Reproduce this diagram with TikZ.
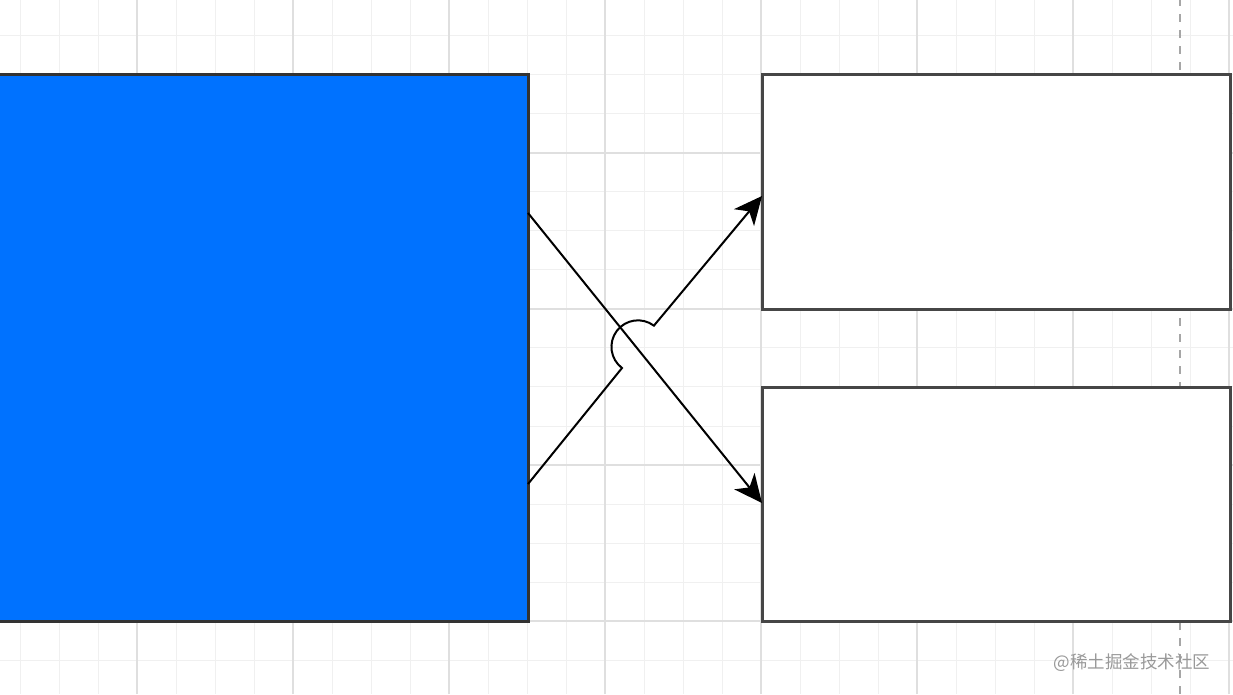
\documentclass[tikz,border=0pt]{standalone}
\usepackage{fontspec}
\newfontfamily\cjk{Noto Sans CJK SC}
\usetikzlibrary{arrows.meta}
\definecolor{fillblue}{RGB}{0,114,255}
\definecolor{boxline}{RGB}{70,70,70}
\tikzset{
  box/.style={draw=boxline,line width=3pt,minimum width=#1,inner sep=0pt,outer sep=0pt},
  conn/.style={draw=black,line width=2pt,-{Stealth[length=28pt,width=26pt,inset=8pt]}},
}
\begin{document}
\begin{tikzpicture}[x=1pt,y=1pt]
\useasboundingbox (0,0) rectangle (1233,694);
\fill[white] (0,0) rectangle (1233,694);
\foreach \i in {0,...,32} \draw[gray!12,line width=1pt] (20+39*\i,0) -- (20+39*\i,694);
\foreach \i in {0,...,18} \draw[gray!12,line width=1pt] (0,34+39*\i) -- (1233,34+39*\i);
\foreach \i in {0,...,7} \draw[gray!25,line width=1.2pt] (137+156*\i,0) -- (137+156*\i,694);
\foreach \i in {0,...,4} \draw[gray!25,line width=1.2pt] (0,73+156*\i) -- (1233,73+156*\i);
\draw[gray!70,line width=2pt,dash pattern=on 8pt off 8pt] (1180,0) -- (1180,694);
\node[box=530pt,minimum height=546pt,fill=fillblue,draw=black!80] (blue) at (263,346) {};
\node[box=468pt,minimum height=235pt,fill=white] (top) at (996,501.5) {};
\node[box=468pt,minimum height=233pt,fill=white] (bot) at (996,189.5) {};
\draw[conn] ([yshift=135pt]blue.east) -- ([yshift=1.5pt]bot.west);
\coordinate (j1) at (622,326);
\coordinate (j2) at (654,368);
\draw[conn] ([yshift=-136pt]blue.east) -- (j1) arc[start angle=233,end angle=53,radius=26.5pt] -- ([yshift=-3.5pt]top.west);
\node[text=gray!80,font=\cjk\fontsize{17.5}{17.5}\selectfont,anchor=center] (wm) at (1132,31) {@稀土掘金技术社区};
\end{tikzpicture}
\end{document}
